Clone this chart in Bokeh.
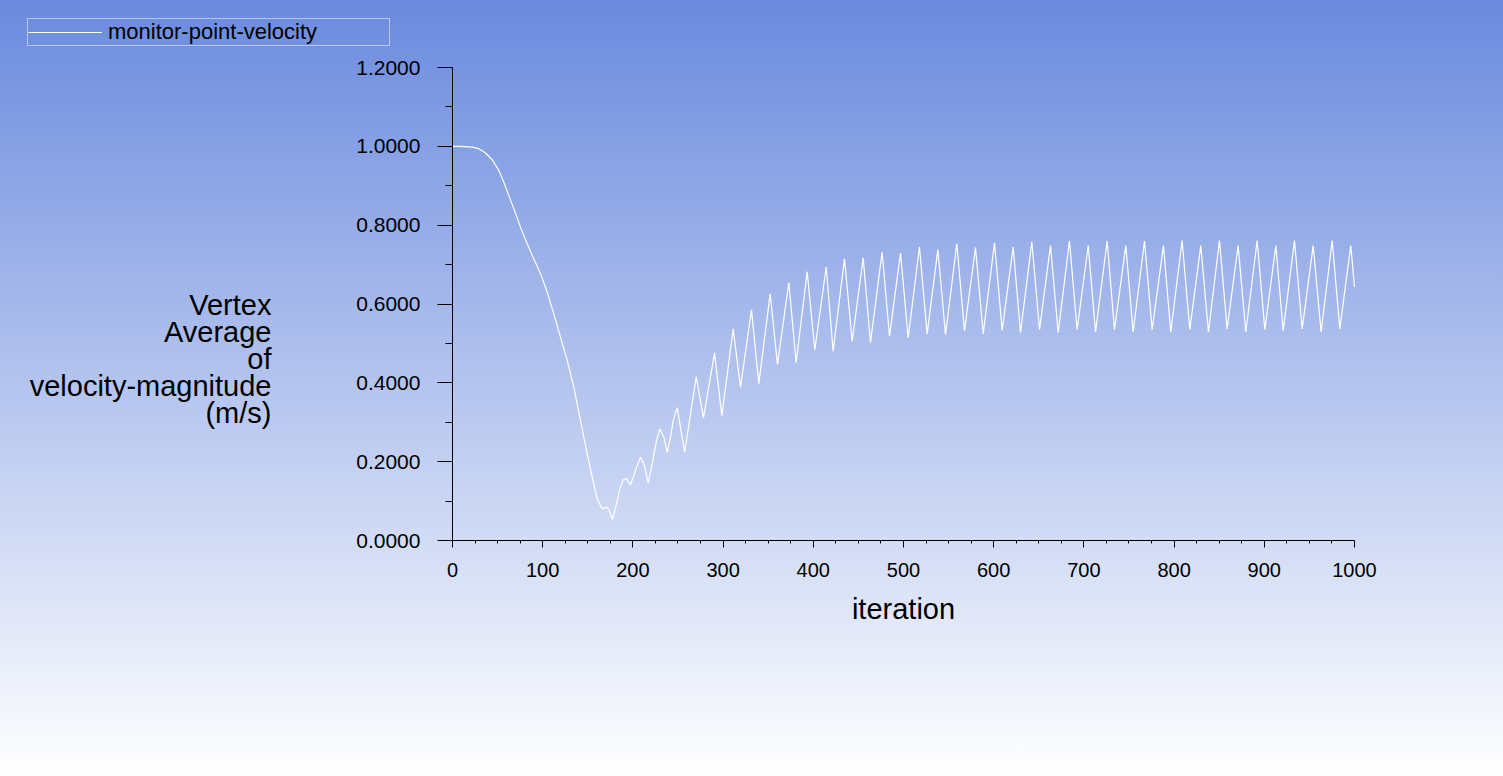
from bokeh.plotting import figure
from bokeh.models import FixedTicker, PrintfTickFormatter, Label, Range1d
from bokeh.embed import file_html
from bokeh.resources import INLINE

# ---- data ----
iterations = [
    0, 8.9, 21.8, 29.2, 36.6, 44.0, 51.4, 56.9, 62.5, 68.0, 75.4, 82.8, 90.1, 97.6,
    105.0, 112.3, 119.7, 127.2, 134.5, 141.9, 149.3, 154.9, 160.4, 166.0, 170.7,
    173.3, 177.3, 181.8, 185.5, 189.2, 192.9, 197.3, 202.9, 208.4, 212.9, 217.0,
    221.4, 226.2, 229.9, 234.3, 238.1, 241.7, 244.7, 249.1, 257.4, 270.2, 278.3,
    290.5, 298.6, 311.2, 319.3, 331.5, 339.6, 352.2, 360.3, 372.9, 381.0, 393.2,
    401.7, 414.3, 422.0, 434.6, 443.1, 455.3, 463.4, 476.3, 484.5, 496.7, 505.2,
    517.7, 526.2, 538.1, 546.6, 559.1, 567.6, 579.8, 588.4, 600.9, 609.4, 621.6,
    629.7, 642.3, 650.8, 663.0, 671.5, 684.0, 692.5, 704.8, 712.9, 725.8, 733.9,
    746.5, 754.6, 767.2, 775.7, 788.2, 796.3, 808.9, 817.4, 829.6, 838.1, 850.3,
    858.8, 871.0, 879.5, 892.1, 900.6, 912.8, 920.9, 933.5, 942.0, 954.2, 963.0,
    975.3, 983.7, 995.9, 1000,
]
velocity = [
    1.000, 1.000, 0.998, 0.994, 0.983, 0.966, 0.939, 0.909, 0.875, 0.842, 0.795,
    0.753, 0.715, 0.677, 0.630, 0.575, 0.516, 0.457, 0.389, 0.304, 0.220, 0.161,
    0.106, 0.080, 0.085, 0.078, 0.053, 0.093, 0.131, 0.154, 0.157, 0.141, 0.178,
    0.212, 0.190, 0.146, 0.195, 0.254, 0.283, 0.262, 0.223, 0.262, 0.304, 0.337,
    0.224, 0.415, 0.311, 0.476, 0.317, 0.537, 0.389, 0.585, 0.398, 0.626, 0.447,
    0.654, 0.451, 0.682, 0.484, 0.694, 0.480, 0.715, 0.505, 0.717, 0.502, 0.732,
    0.519, 0.729, 0.514, 0.745, 0.524, 0.738, 0.522, 0.753, 0.532, 0.743, 0.524,
    0.755, 0.533, 0.745, 0.527, 0.758, 0.535, 0.748, 0.527, 0.760, 0.535, 0.748,
    0.529, 0.760, 0.535, 0.748, 0.529, 0.760, 0.535, 0.748, 0.529, 0.761, 0.535,
    0.748, 0.529, 0.761, 0.537, 0.748, 0.529, 0.761, 0.535, 0.748, 0.532, 0.761,
    0.537, 0.748, 0.529, 0.761, 0.537, 0.748, 0.643,
]
x_major = [0, 100, 200, 300, 400, 500, 600, 700, 800, 900, 1000]
x_minor = [25, 50, 75, 125, 150, 175, 225, 250, 275, 325, 350, 375, 425, 450, 475,
           525, 550, 575, 625, 650, 675, 725, 750, 775, 825, 850, 875, 925, 950, 975]
y_major = [0.0, 0.2, 0.4, 0.6, 0.8, 1.0, 1.2]
y_minor = [0.1, 0.3, 0.5, 0.7, 0.9, 1.1]
series_name = "monitor-point-velocity"
x_title = "iteration"
y_title = "Vertex\nAverage\nof\nvelocity-magnitude\n(m/s)"

FONT = "Liberation Sans"
W, H = 1503, 776
# plot frame fills the canvas; axes sit at fixed locations with bounds 0..1000, 0..1.2
X0, X1 = -501.1, 1165.2
Y0, Y1 = -0.5987, 1.3700

p = figure(
    width=W, height=H,
    x_range=Range1d(X0, X1), y_range=Range1d(Y0, Y1),
    output_backend="svg", toolbar_location=None,
    min_border=0,
)
p.styles = {
    "position": "absolute", "left": "0px", "top": "0px",
    "background": "linear-gradient(to bottom, #6a8ade 0%, #ffffff 100%)",
}
p.border_fill_color = None
p.background_fill_color = None
p.outline_line_color = None
p.grid.visible = False

p.line(iterations, velocity, line_color="white", line_width=1.2, legend_label=series_name)

# x axis
xa = p.xaxis[0]
xa.fixed_location = 0
xa.bounds = (x_major[0], x_major[-1])
xa.ticker = FixedTicker(ticks=x_major, minor_ticks=x_minor)
xa.axis_label = x_title
xa.axis_label_text_font = FONT
xa.axis_label_text_font_size = "29px"
xa.axis_label_text_font_style = "normal"
xa.axis_label_text_color = "black"
xa.axis_label_standoff = 13
xa.major_label_text_font = FONT
xa.major_label_text_font_size = "20px"
xa.major_label_text_color = "black"
xa.major_label_standoff = 15
xa.major_tick_out = 7
xa.major_tick_in = 0
xa.minor_tick_out = 3
xa.minor_tick_in = 0
xa.axis_line_color = "black"
xa.major_tick_line_color = "black"
xa.minor_tick_line_color = "black"

# y axis
ya = p.yaxis[0]
ya.fixed_location = 0
ya.bounds = (y_major[0], y_major[-1])
ya.ticker = FixedTicker(ticks=y_major, minor_ticks=y_minor)
ya.formatter = PrintfTickFormatter(format="%.4f")
ya.major_label_text_font = FONT
ya.major_label_text_font_size = "21px"
ya.major_label_text_color = "black"
ya.major_label_standoff = 17
ya.major_tick_out = 15
ya.major_tick_in = 0
ya.minor_tick_out = 7
ya.minor_tick_in = 0
ya.axis_line_color = "black"
ya.major_tick_line_color = "black"
ya.minor_tick_line_color = "black"

# y axis title (multi-line, right aligned, left of the axis)
ylab = Label(
    x=-200.7, y=0.637,
    text=y_title, text_align="right", text_baseline="top",
    text_font=FONT, text_font_size="29px", text_color="black",
    text_line_height=0.84,
)
p.add_layout(ylab)

# legend
lg = p.legend[0]
lg.location = (27, H - 46)
lg.border_line_color = "white"
lg.border_line_width = 1
lg.background_fill_alpha = 0
lg.padding = 0
lg.margin = 0
lg.glyph_width = 74
lg.label_standoff = 6
lg.label_width = 281
lg.label_text_font = FONT
lg.label_text_font_size = "22px"
lg.label_text_color = "black"

open("out.html", "w").write(file_html(p, INLINE))
